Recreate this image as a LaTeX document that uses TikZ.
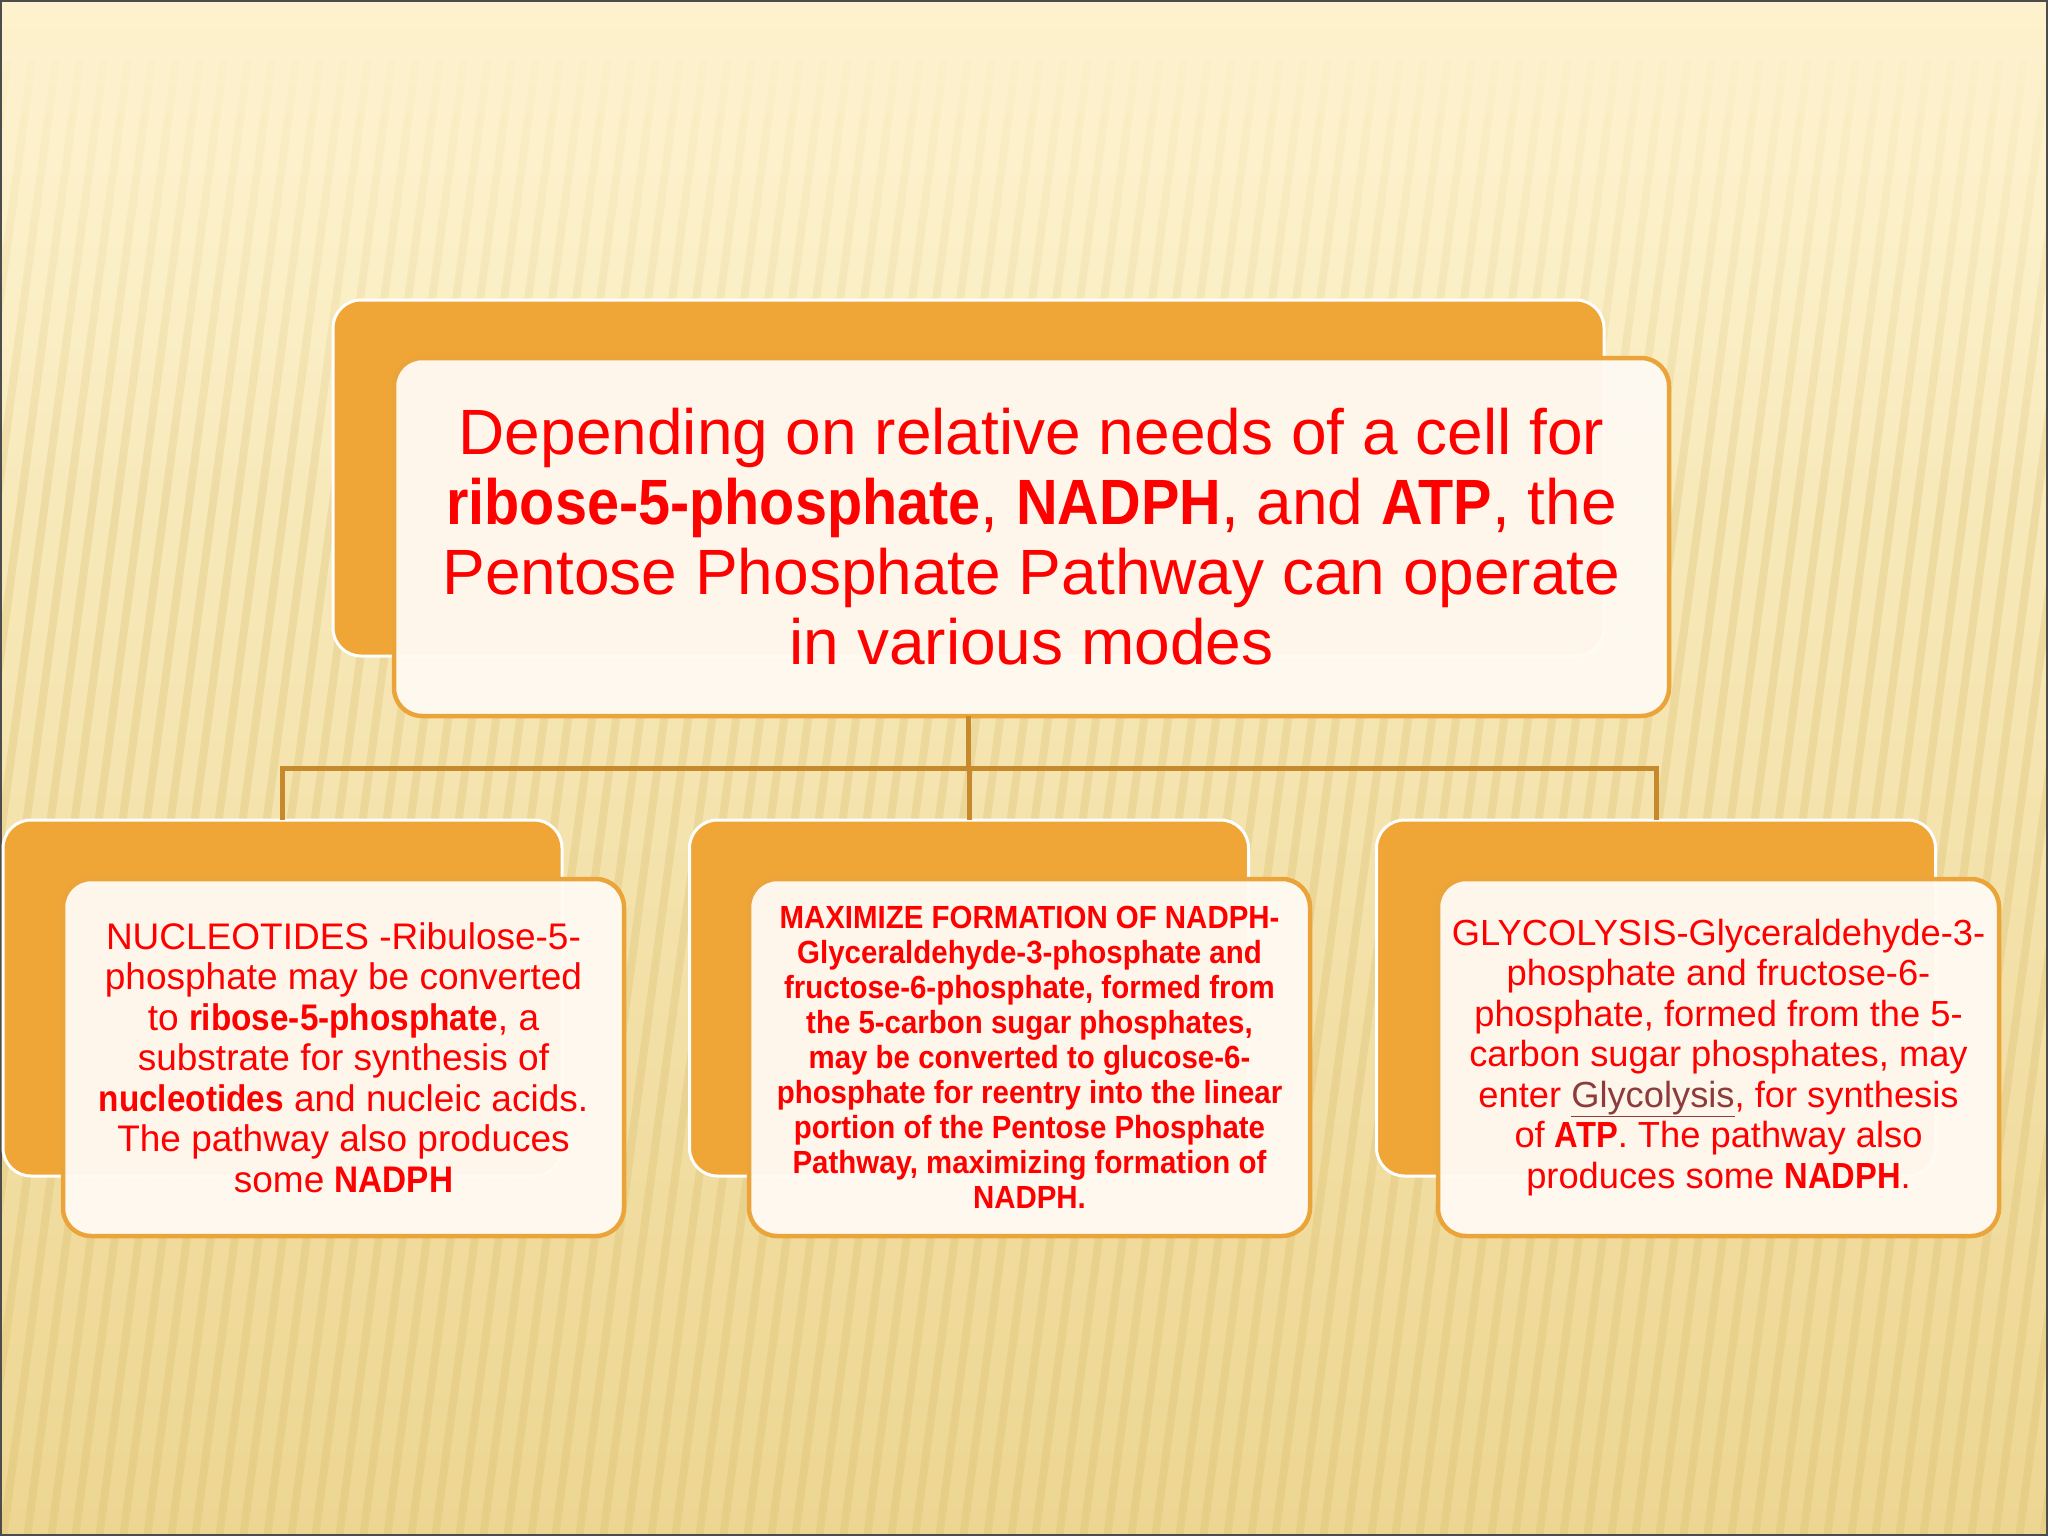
\documentclass[tikz,border=0pt]{standalone}
\usepackage{fontspec}
\setmainfont{Liberation Sans}
\newfontfamily\condfam[FakeStretch=0.92]{Liberation Sans}
\newfontfamily\narrowbold[FakeStretch=0.9]{Liberation Sans}
\newcommand{\nb}[1]{{\narrowbold\bfseries #1}}
\usetikzlibrary{calc,fadings}
\definecolor{bgtop}{HTML}{FDF2CD}
\definecolor{bgbot}{HTML}{EDD692}
\definecolor{stripeclr}{HTML}{D6BA66}
\definecolor{boxorange}{HTML}{F0A537}
\definecolor{frontfill}{HTML}{FFFAF2}
\definecolor{frontedge}{HTML}{EAA43A}
\definecolor{connclr}{HTML}{C68A2C}
\definecolor{txtred}{HTML}{FF0000}
\definecolor{linkclr}{HTML}{8C3C3C}
\tikzset{
  backbox/.style={draw=white, line width=3pt, fill=boxorange, rounded corners=28pt,
    inner sep=0pt, outer sep=0pt},
  frontbox/.style={draw=frontedge, line width=4.5pt, fill=frontfill, fill opacity=0.96,
    text opacity=1, rounded corners=28pt, inner sep=0pt, outer sep=0pt,
    text=txtred, align=center},
  backtop/.style={backbox, minimum width=1271pt, minimum height=356pt},
  fronttop/.style={frontbox, minimum width=1275pt, minimum height=358pt,
    font=\fontsize{64}{70}\selectfont},
  backsub/.style={backbox, minimum width=559pt, minimum height=356pt},
  frontsub/.style={frontbox, minimum width=561pt, minimum height=357pt,
    font=\fontsize{37}{40.5}\selectfont},
  conn/.style={draw=connclr, line width=5pt}
}
\begin{document}
\begin{tikzpicture}[x=1pt,y=-1pt]
\useasboundingbox (0,0) rectangle (2048,1536);
% background
\shade[top color=bgtop, bottom color=bgbot] (0,0) rectangle (2048,1536);
\begin{scope}
  \clip (0,0) rectangle (2048,1536);
  \foreach \i in {-20,...,100}
    \draw[stripeclr, line width=8pt, opacity=0.28] (\i*24,1560) -- (\i*24+200,60);
  \fill[bgtop, path fading=south] (0,0) rectangle (2048,520);
\end{scope}
\draw[black!70, line width=2pt] (1,1) rectangle (2047,1535);

% top boxes
\node[backtop] (topback) at (968.5,478) {};
\node[fronttop] (topfront) at (1031.5,537) {Depending on relative needs of a cell for\\
  \nb{ribose-5-phosphate}, \nb{NADPH}, and \nb{ATP}, the\\
  Pentose Phosphate Pathway can operate\\
  in various modes};

% bottom boxes
\node[backsub] (lback) at (282.5,998) {};
\node[frontsub] (lfront) at (343.5,1057.5) {NUCLEOTIDES -Ribulose-5-\\
  phosphate may be converted\\
  to \nb{ribose-5-phosphate}, a\\
  substrate for synthesis of\\
  \nb{nucleotides} and nucleic acids.\\
  The pathway also produces\\
  some \nb{NADPH}};

\node[backsub] (mback) at (969,998) {};
\node[frontsub, font={\condfam\bfseries\fontsize{32}{35}\selectfont}] (mfront) at (1029.5,1057.5) {MAXIMIZE FORMATION OF NADPH-\\
  Glyceraldehyde-3-phosphate and\\
  fructose-6-phosphate, formed from\\
  the 5-carbon sugar phosphates,\\
  may be converted to glucose-6-\\
  phosphate for reentry into the linear\\
  portion of the Pentose Phosphate\\
  Pathway, maximizing formation of\\
  NADPH.};

\node[backsub] (rback) at (1656,998) {};
\node[frontsub, font=\fontsize{36.3}{40.5}\selectfont] (rfront) at (1718.5,1057.5) {GLYCOLYSIS-Glyceraldehyde-3-\\
  phosphate and fructose-6-\\
  phosphate, formed from the 5-\\
  carbon sugar phosphates, may\\
  enter {\color{linkclr}\underline{Glycolysis}}, for synthesis\\
  of \nb{ATP}. The pathway also\\
  produces some \nb{NADPH}.};

% connectors
\draw[conn] (topfront.south -| topback.center) -- ++(0,52) -| (lback.north);
\draw[conn] (topfront.south -| topback.center) -- ++(0,52) -| (mback.north);
\draw[conn] (topfront.south -| topback.center) -- ++(0,52) -| (rback.north);
\end{tikzpicture}
\end{document}
